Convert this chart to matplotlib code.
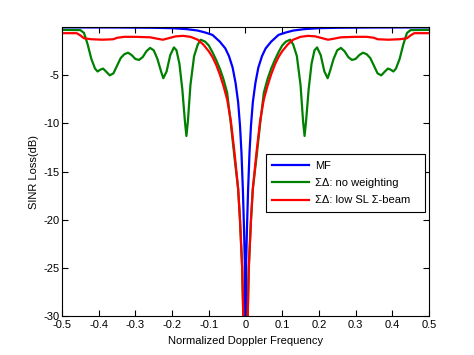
import matplotlib.pyplot as plt

plt.rcParams['font.family'] = ['Liberation Sans', 'DejaVu Sans']
plt.rcParams['axes.unicode_minus'] = False

# MF curve
mf_f = [-0.5, -0.35, -0.25, -0.2, -0.16, -0.13, -0.11, -0.09, -0.07, -0.055, -0.045,
        -0.035, -0.027, -0.02, -0.015, -0.011, -0.007, -0.004, -0.0015, 0.0,
        0.0015, 0.004, 0.007, 0.011, 0.015, 0.02, 0.027, 0.035, 0.045, 0.055, 0.07,
        0.09, 0.11, 0.13, 0.16, 0.2, 0.25, 0.35, 0.5]
mf_db = [-0.02, -0.03, -0.06, -0.1, -0.2, -0.35, -0.55, -0.8, -1.5, -2.2, -3.0,
         -4.2, -5.8, -7.8, -10.2, -13.0, -17.0, -21.0, -25.0, -45.0,
         -25.0, -21.0, -17.0, -13.0, -10.2, -7.8, -5.8, -4.2, -3.0, -2.2, -1.5,
         -0.8, -0.55, -0.35, -0.2, -0.1, -0.06, -0.03, -0.02]

# sum-delta, no weighting
nw_f = [-0.5, -0.45, -0.44, -0.43, -0.42, -0.41, -0.403, -0.395, -0.388, -0.38, -0.37,
        -0.36, -0.35, -0.34, -0.33, -0.32, -0.31, -0.3, -0.29, -0.28, -0.27, -0.26,
        -0.25, -0.24, -0.23, -0.224, -0.215, -0.205, -0.195, -0.188, -0.18, -0.172,
        -0.165, -0.161, -0.157, -0.15, -0.14, -0.13, -0.122, -0.11, -0.1, -0.09,
        -0.08, -0.07, -0.06, -0.05, -0.04, -0.03, -0.02, -0.015, -0.009, -0.006, 0.0,
        0.006, 0.009, 0.015, 0.02, 0.03, 0.04, 0.05, 0.06, 0.07, 0.08, 0.09, 0.1,
        0.11, 0.122, 0.13, 0.14, 0.15, 0.157, 0.161, 0.165, 0.172, 0.18, 0.188,
        0.195, 0.205, 0.215, 0.224, 0.23, 0.24, 0.25, 0.26, 0.27, 0.28, 0.29, 0.3,
        0.31, 0.32, 0.33, 0.34, 0.35, 0.36, 0.37, 0.38, 0.388, 0.395, 0.403, 0.41,
        0.42, 0.43, 0.44, 0.45, 0.5]
nw_db = [-0.28, -0.3, -0.6, -1.8, -3.3, -4.3, -4.6, -4.4, -4.3, -4.6, -5.0,
         -4.8, -4.0, -3.2, -2.8, -2.65, -2.9, -3.3, -3.4, -3.1, -2.5, -2.15,
         -2.4, -3.3, -4.6, -5.3, -4.6, -2.9, -2.1, -2.4, -3.8, -6.5,
         -9.8, -11.3, -9.8, -6.0, -3.0, -1.8, -1.3, -1.5, -1.9, -2.6,
         -3.4, -4.3, -5.4, -6.8, -10.0, -13.5, -16.8, -20.0, -25.0, -30.0, -45.0,
         -30.0, -25.0, -20.0, -16.8, -13.5, -10.0, -6.8, -5.4, -4.3, -3.4, -2.6, -1.9,
         -1.5, -1.3, -1.8, -3.0, -6.0, -9.8, -11.3, -9.8, -6.5, -3.8, -2.4,
         -2.1, -2.9, -4.6, -5.3, -4.6, -3.3, -2.4, -2.15, -2.5, -3.1, -3.4, -3.3,
         -2.9, -2.65, -2.8, -3.2, -4.0, -4.8, -5.0, -4.6, -4.3, -4.4, -4.6, -4.3,
         -3.3, -1.8, -0.6, -0.3, -0.28]

# sum-delta, low sidelobe sum beam
sl_f = [-0.5, -0.46, -0.45, -0.44, -0.42, -0.39, -0.36, -0.35, -0.33, -0.3, -0.26,
        -0.24, -0.225, -0.21, -0.19, -0.17, -0.15, -0.13, -0.115, -0.1, -0.09,
        -0.08, -0.07, -0.06, -0.05, -0.04, -0.03, -0.02, -0.015, -0.009, -0.006, 0.0,
        0.006, 0.009, 0.015, 0.02, 0.03, 0.04, 0.05, 0.06, 0.07, 0.08, 0.09, 0.1,
        0.115, 0.13, 0.15, 0.17, 0.19, 0.21, 0.225, 0.24, 0.26, 0.3, 0.33, 0.35,
        0.36, 0.39, 0.42, 0.44, 0.45, 0.46, 0.5]
sl_db = [-0.62, -0.62, -0.85, -1.15, -1.25, -1.3, -1.25, -1.1, -1.0, -1.0, -1.05,
         -1.2, -1.3, -1.15, -0.95, -0.9, -1.0, -1.3, -1.8, -2.5, -3.1,
         -3.9, -4.9, -6.1, -7.5, -9.7, -13.0, -16.8, -20.0, -25.0, -30.0, -45.0,
         -30.0, -25.0, -20.0, -16.8, -13.0, -9.7, -7.5, -6.1, -4.9, -3.9, -3.1, -2.5,
         -1.8, -1.3, -1.0, -0.9, -0.95, -1.15, -1.3, -1.2, -1.05, -1.0, -1.0, -1.1,
         -1.25, -1.3, -1.25, -1.15, -0.85, -0.62, -0.62]

xticks = [-0.5, -0.4, -0.3, -0.2, -0.1, 0, 0.1, 0.2, 0.3, 0.4, 0.5]
xtick_labels = ['-0.5', '-0.4', '-0.3', '-0.2', '-0.1', '0', '0.1', '0.2', '0.3', '0.4', '0.5']
yticks = [-30, -25, -20, -15, -10, -5]

fig = plt.figure(figsize=(4.74, 3.55), dpi=100)
ax = fig.add_axes([0.1308, 0.1099, 0.7742, 0.8132])

ax.plot(mf_f, mf_db, color='#0000ff', lw=1.6, label='MF')
ax.plot(nw_f, nw_db, color='#008000', lw=1.6, label='ΣΔ: no weighting')
ax.plot(sl_f, sl_db, color='#ff0000', lw=1.6, label='ΣΔ: low SL Σ-beam')

ax.set_xlim(-0.5, 0.5)
ax.set_ylim(-30, -0.01)
ax.set_xticks(xticks)
ax.set_xticklabels(xtick_labels)
ax.set_yticks(yticks)
ax.tick_params(direction='in', top=True, right=True, length=4, labelsize=8)
ax.tick_params(axis='x', pad=3)
ax.tick_params(axis='y', pad=2)
for s in ax.spines.values():
    s.set_linewidth(0.8)

ax.set_xlabel('Normalized Doppler Frequency', fontsize=8, labelpad=4)
ax.set_ylabel('SINR Loss(dB)', fontsize=8, labelpad=3)

leg = ax.legend(loc='upper left', bbox_to_anchor=(0.555, 0.376, 0.435, 0.184),
                mode='expand', fontsize=8,
                fancybox=False, edgecolor='black', framealpha=1, borderaxespad=0,
                handlelength=3.3, handletextpad=0.55, labelspacing=0.65,
                borderpad=0.6)
leg.get_frame().set_linewidth(0.8)

fig.savefig('out.png', dpi=100)
